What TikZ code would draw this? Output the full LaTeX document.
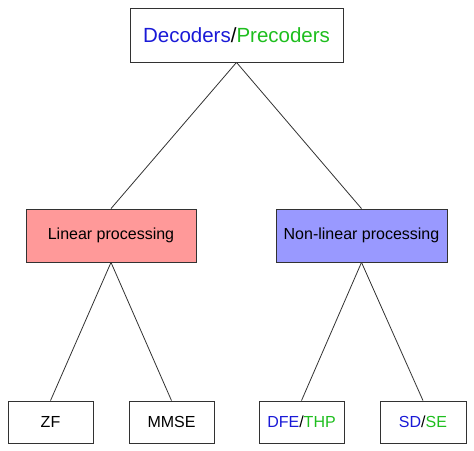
\documentclass[tikz,border=0pt]{standalone}
\usepackage{fontspec}
\setmainfont{Liberation Sans}
\definecolor{tblue}{RGB}{26,26,215}
\definecolor{tgreen}{RGB}{30,190,30}
\definecolor{pinkfill}{RGB}{255,153,153}
\definecolor{bluefill}{RGB}{153,153,255}
\definecolor{edge}{RGB}{50,50,50}
\begin{document}
\begin{tikzpicture}[x=1pt,y=-1pt,
  box/.style={draw=edge,line width=0.8pt,inner sep=0pt,minimum height=42pt,minimum width=85pt,font=\fontsize{16}{18}\selectfont},
  link/.style={draw=edge,line width=0.8pt}]
\useasboundingbox (0,0) rectangle (474,450);
\node[box,minimum width=213pt,minimum height=54pt,font=\fontsize{20.5}{24}\selectfont] (top) at (236.5,35) {\textcolor{tblue}{Decoders}/\textcolor{tgreen}{Precoders}};
\node[box,fill=pinkfill,minimum width=170pt,minimum height=53pt] (lin) at (111,235.5) {Linear processing};
\node[box,fill=bluefill,minimum width=171pt,minimum height=53pt] (nl) at (361.5,235.5) {Non-linear processing};
\node[box] (zf) at (50.5,422) {ZF};
\node[box] (mmse) at (171.5,422) {MMSE};
\node[box] (dfe) at (301.5,422) {\textcolor{tblue}{DFE}/\textcolor{tgreen}{THP}};
\node[box,minimum width=86pt] (sd) at (423,422) {\textcolor{tblue}{SD}/\textcolor{tgreen}{SE}};
\draw[link] (top.south) -- (lin.north);
\draw[link] (top.south) -- (nl.north);
\draw[link] (lin.south) -- (zf.north);
\draw[link] (lin.south) -- (mmse.north);
\draw[link] (nl.south) -- (dfe.north);
\draw[link] (nl.south) -- (sd.north);
\end{tikzpicture}
\end{document}
